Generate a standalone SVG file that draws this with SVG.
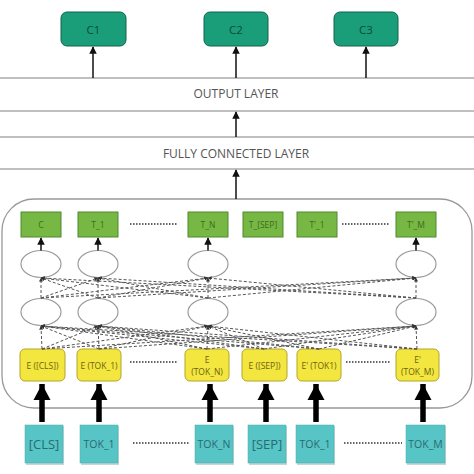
<svg xmlns="http://www.w3.org/2000/svg" width="474" height="474" viewBox="0 0 474 474">
<defs>
<marker id="ah" viewBox="0 0 10 10" refX="9" refY="5" markerWidth="5" markerHeight="5" orient="auto"><path d="M0,0 L10,5 L0,10 z" fill="#111"/></marker>
<marker id="dh" viewBox="0 0 10 10" refX="9" refY="5" markerWidth="4" markerHeight="4" orient="auto"><path d="M0,0 L10,5 L0,10 z" fill="#333"/></marker>
<marker id="big" viewBox="0 0 18 17" refX="17" refY="9" markerWidth="17" markerHeight="18" markerUnits="userSpaceOnUse" orient="auto"><path d="M0,0 L17,9 L0,18 z" fill="#000"/></marker>
</defs>
<style>
text{font-family:"Open Sans","Liberation Sans",sans-serif;text-anchor:middle;dominant-baseline:central}
.band{stroke:#aaa;stroke-width:1.5}
.lbl{font-size:12px;fill:#555}
.out rect{fill:#1a9e7a;stroke:#14634d;stroke-width:1}
.out text{font-size:11.5px;fill:#0f4a3a}
.g rect{fill:#76b843;stroke:#4f8a2c;stroke-width:1}
.g text{font-size:8.5px;fill:#3d6b22}
.y rect{fill:#f3e63e;stroke:#b3a52a;stroke-width:1}
.y text{font-size:8.5px;fill:#6d6210}
.t rect.f{fill:#57c4c6;stroke:#48aeb0;stroke-width:0.5}
.t rect.s{fill:#c9d6d6}
.t text{fill:#2b6b70}
.e ellipse{fill:#fff;stroke:#999;stroke-width:1.2}
.dots{stroke:#333;stroke-width:1.5;stroke-dasharray:1.5,1.5}
.sa{stroke:#111;stroke-width:1.5;marker-end:url(#ah)}
.ba{stroke:#000;stroke-width:5.5;marker-end:url(#big)}
.d{stroke:#555;stroke-width:1;stroke-dasharray:3,2;fill:none;marker-end:url(#dh)}
</style>
<rect width="474" height="474" fill="#fff"/>

<g id="bands">
<line class="band" x1="0" y1="78" x2="474" y2="78"/>
<line class="band" x1="0" y1="111" x2="474" y2="111"/>
<line class="band" x1="0" y1="137" x2="474" y2="137"/>
<line class="band" x1="0" y1="169" x2="474" y2="169"/>
<text class="lbl" x="236" y="93.5">OUTPUT LAYER</text>
<text class="lbl" x="236" y="153">FULLY CONNECTED LAYER</text>
</g>

<g id="encoder">
<rect x="2" y="199" width="470" height="209" rx="32" fill="none" stroke="#999" stroke-width="1.3"/>
</g>

<g id="outputs" class="out">
<g id="c1"><rect x="61" y="12" width="65" height="34" rx="6"/><text x="93.5" y="29">C1</text></g>
<g id="c2"><rect x="204" y="12" width="64" height="34" rx="6"/><text x="236" y="29">C2</text></g>
<g id="c3"><rect x="334" y="12" width="64" height="34" rx="6"/><text x="366" y="29">C3</text></g>
</g>

<g id="tout" class="g">
<g id="t_c"><rect x="21" y="212" width="40" height="25"/><text x="41" y="224.5">C</text></g>
<g id="t_1"><rect x="78" y="212" width="40" height="25"/><text x="98" y="224.5">T_1</text></g>
<g id="t_n"><rect x="188" y="212" width="40" height="25"/><text x="208" y="224.5">T_N</text></g>
<g id="t_sep"><rect x="243" y="212" width="40" height="25"/><text x="263" y="224.5">T_[SEP]</text></g>
<g id="tp_1"><rect x="297" y="212" width="40" height="25"/><text x="317" y="224.5">T'_1</text></g>
<g id="tp_m"><rect x="396" y="212" width="40" height="25"/><text x="416" y="224.5">T'_M</text></g>
</g>

<g id="hidden" class="e">
<g id="h2a"><ellipse cx="41" cy="264" rx="20" ry="13.5"/></g>
<g id="h2b"><ellipse cx="98" cy="264" rx="20" ry="13.5"/></g>
<g id="h2c"><ellipse cx="208" cy="264" rx="20" ry="13.5"/></g>
<g id="h2d"><ellipse cx="416" cy="264" rx="20" ry="13.5"/></g>
<g id="h1a"><ellipse cx="41" cy="312" rx="20" ry="13.5"/></g>
<g id="h1b"><ellipse cx="98" cy="312" rx="20" ry="13.5"/></g>
<g id="h1c"><ellipse cx="208" cy="312" rx="20" ry="13.5"/></g>
<g id="h1d"><ellipse cx="416" cy="312" rx="20" ry="13.5"/></g>
</g>

<g id="emb" class="y">
<g id="e_cls"><rect x="20" y="349" width="45" height="32" rx="5"/><text x="42.5" y="365">E ([CLS])</text></g>
<g id="e_1"><rect x="77" y="349" width="44" height="32" rx="5"/><text x="99" y="365">E (TOK_1)</text></g>
<g id="e_n"><rect x="185" y="349" width="44" height="32" rx="5"/><text x="207" y="359">E</text><text x="207" y="371">(TOK_N)</text></g>
<g id="e_sep"><rect x="242" y="349" width="45" height="32" rx="5"/><text x="264.5" y="365">E ([SEP])</text></g>
<g id="ep_1"><rect x="297" y="349" width="44" height="32" rx="5"/><text x="319" y="365">E' (TOK1)</text></g>
<g id="ep_m"><rect x="396" y="349" width="43" height="32" rx="5"/><text x="417.5" y="359">E'</text><text x="417.5" y="371">(TOK_M)</text></g>
</g>

<g id="tokens" class="t">
<g id="k_cls"><rect class="s" x="26" y="426" width="38" height="39"/><rect class="f" x="25" y="425" width="38" height="38"/><text x="44" y="444" font-size="13">[CLS]</text></g>
<g id="k_1"><rect class="s" x="81" y="426" width="38" height="39"/><rect class="f" x="80" y="425" width="38" height="38"/><text x="99" y="444" font-size="10.5">TOK_1</text></g>
<g id="k_n"><rect class="s" x="196" y="426" width="38" height="39"/><rect class="f" x="195" y="425" width="38" height="38"/><text x="214" y="444" font-size="10.5">TOK_N</text></g>
<g id="k_sep"><rect class="s" x="249" y="426" width="38" height="39"/><rect class="f" x="248" y="425" width="38" height="38"/><text x="267" y="444" font-size="13">[SEP]</text></g>
<g id="kp_1"><rect class="s" x="297" y="426" width="38" height="39"/><rect class="f" x="296" y="425" width="38" height="38"/><text x="315" y="444" font-size="10.5">TOK_1</text></g>
<g id="kp_m"><rect class="s" x="407" y="426" width="39" height="39"/><rect class="f" x="406" y="425" width="39" height="38"/><text x="425.5" y="444" font-size="10.5">TOK_M</text></g>
</g>

<g id="ellipsis">
<line class="dots" x1="130" y1="224" x2="178" y2="224"/>
<line class="dots" x1="342" y1="224" x2="390" y2="224"/>
<line class="dots" x1="130" y1="362" x2="178" y2="362"/>
<line class="dots" x1="346" y1="362" x2="391" y2="362"/>
<line class="dots" x1="133" y1="443" x2="190" y2="443"/>
<line class="dots" x1="344" y1="443" x2="402" y2="443"/>
</g>

<g id="connectors">
<line class="sa" x1="93" y1="78" x2="93" y2="47"/>
<line class="sa" x1="236" y1="78" x2="236" y2="47"/>
<line class="sa" x1="366" y1="78" x2="366" y2="47"/>
<line class="sa" x1="236" y1="137" x2="236" y2="112"/>
<line class="sa" x1="236" y1="199" x2="236" y2="170"/>
<line class="sa" x1="41" y1="250.5" x2="41" y2="238"/>
<line class="sa" x1="98" y1="250.5" x2="98" y2="238"/>
<line class="sa" x1="208" y1="250.5" x2="208" y2="238"/>
<line class="sa" x1="416" y1="250.5" x2="416" y2="238"/>

<line class="ba" x1="42" y1="422" x2="42" y2="384"/>
<line class="ba" x1="99" y1="422" x2="99" y2="384"/>
<line class="ba" x1="210" y1="422" x2="210" y2="384"/>
<line class="ba" x1="266" y1="422" x2="266" y2="384"/>
<line class="ba" x1="316" y1="422" x2="316" y2="384"/>
<line class="ba" x1="423" y1="422" x2="423" y2="384"/>

<g id="dash-h1-h2">
<path class="d" d="M41,298 L41,278"/><path class="d" d="M41,298 L98,278"/><path class="d" d="M41,298 L208,278"/><path class="d" d="M41,298 L416,278"/>
<path class="d" d="M98,298 L41,278"/><path class="d" d="M98,298 L98,278"/><path class="d" d="M98,298 L208,278"/><path class="d" d="M98,298 L416,278"/>
<path class="d" d="M208,298 L41,278"/><path class="d" d="M208,298 L98,278"/><path class="d" d="M208,298 L208,278"/><path class="d" d="M208,298 L416,278"/>
<path class="d" d="M416,298 L41,278"/><path class="d" d="M416,298 L98,278"/><path class="d" d="M416,298 L208,278"/><path class="d" d="M416,298 L416,278"/>
</g>
<g id="dash-e-h1">
<path class="d" d="M42,349 L41,326"/><path class="d" d="M42,349 L98,326"/><path class="d" d="M42,349 L208,326"/><path class="d" d="M42,349 L416,326"/>
<path class="d" d="M99,349 L41,326"/><path class="d" d="M99,349 L98,326"/><path class="d" d="M99,349 L208,326"/><path class="d" d="M99,349 L416,326"/>
<path class="d" d="M207,349 L41,326"/><path class="d" d="M207,349 L98,326"/><path class="d" d="M207,349 L208,326"/><path class="d" d="M207,349 L416,326"/>
<path class="d" d="M264,349 L41,326"/><path class="d" d="M264,349 L98,326"/><path class="d" d="M264,349 L208,326"/><path class="d" d="M264,349 L416,326"/>
<path class="d" d="M319,349 L41,326"/><path class="d" d="M319,349 L98,326"/><path class="d" d="M319,349 L208,326"/><path class="d" d="M319,349 L416,326"/>
<path class="d" d="M417,349 L41,326"/><path class="d" d="M417,349 L98,326"/><path class="d" d="M417,349 L208,326"/><path class="d" d="M417,349 L416,326"/>
</g>
</g>
</svg>
